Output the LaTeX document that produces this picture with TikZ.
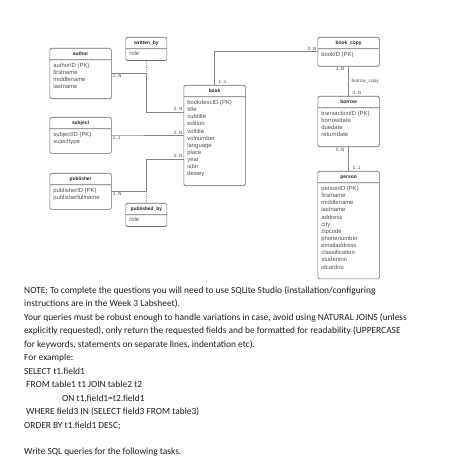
\documentclass[tikz,border=0pt]{standalone}
\usepackage{fontspec}
\setmainfont{Carlito}
\newfontfamily\diagramfont{Liberation Sans}
\usetikzlibrary{shapes.multipart,positioning}

\definecolor{boxgray}{HTML}{6A6A6A}
\definecolor{linegray}{HTML}{858585}
\definecolor{attrgray}{HTML}{505050}
\definecolor{headgray}{HTML}{222222}
\definecolor{notegray}{HTML}{1E1E1E}

% header and spacing helpers for the entity boxes
\newcommand\entityhead[1]{\rule[-3.8pt]{0pt}{10.7pt}{\bfseries\fontsize{4.9}{5}\selectfont\color{headgray}#1}}
\newcommand\firstattr{\rule{0pt}{7.4pt}}
\newcommand\lastattr{\rule[-9.4pt]{0pt}{9.4pt}}
\newcommand\onlyattr{\rule[-4.6pt]{0pt}{11pt}}

\begin{document}
\begin{tikzpicture}%
  [x=1pt, y=-1pt,
   entity/.style={rectangle split, rectangle split parts=2, draw=boxgray,
     line width=0.7pt, rounded corners=1.5pt, minimum width=61.5pt,
     inner xsep=3.5pt, inner ysep=0pt, anchor=north west, align=left,
     rectangle split part align={center,left},
     font=\diagramfont\fontsize{5.9}{7.15}\selectfont, text=attrgray},
   relation/.style={entity, minimum width=41pt},
   card/.style={font=\diagramfont\fontsize{4.7}{5}\selectfont, text=attrgray, inner sep=0.8pt},
   link/.style={draw=linegray, line width=0.6pt},
   weak/.style={link, dash pattern=on 1pt off 1pt},
   note/.style={font=\fontsize{9.4}{13.5}\selectfont, text=notegray, align=left, inner sep=0pt}
  ]
\useasboundingbox (0,0) rectangle (474,462);

% entities
\node[entity] (author) at (49.5,48) {\entityhead{author}
  \nodepart{two}\firstattr authorID (PK)\\firstname\\middlename\\lastname\lastattr};
\node[entity] (subject) at (49.5,117) {\entityhead{subject}
  \nodepart{two}\firstattr subjectID (PK)\\sujecttype\lastattr};
\node[entity] (publisher) at (49.5,173) {\entityhead{publisher}
  \nodepart{two}\firstattr publisherID (PK)\\publisherfullname\lastattr};
\node[entity] (book) at (183.5,85) {\entityhead{book}
  \nodepart{two}\firstattr bookdescID (PK)\\title\\subtitle\\edition\\voltitle\\volnumber\\language\\place\\year\\isbn\\dewey\lastattr};
\node[entity] (bookcopy) at (317.5,37) {\entityhead{book\_copy}
  \nodepart{two}\firstattr bookID (PK)\lastattr};
\node[entity] (borrow) at (317.5,96) {\entityhead{borrow}
  \nodepart{two}\firstattr transactionID (PK)\\borrowdate\\duedate\\returndate\lastattr};
\node[entity] (person) at (317.5,171) {\entityhead{person}
  \nodepart{two}\firstattr personID (PK)\\firstname\\middlename\\lastname\\address\\city\\zipcode\\phonenumber\\emailaddress\\classification\\studentno\\idcardno\lastattr};

% relationship attributes
\node[relation] (writtenby) at (125.5,37) {\entityhead{written\_by}
  \nodepart{two}\onlyattr role};
\node[relation] (publishedby) at (125.5,203) {\entityhead{published\_by}
  \nodepart{two}\onlyattr role};

% connectors
\draw[link] (author.east) -- node[card, pos=0, anchor=north west] {1..N}
  ++(35,0) coordinate (wbjoin) |- node[card, pos=1, anchor=south east] {0..N}
  ([yshift=23.5pt]book.west);
\draw[link] (subject.east) -- node[card, pos=0, anchor=north west] {1..1}
  node[card, pos=1, anchor=south east] {0..N} (book.west);
\draw[link] (publisher.east) -- node[card, pos=0, anchor=north west] {1..N}
  ++(35,0) coordinate (pbjoin) |- node[card, pos=1, anchor=south east] {0..N}
  ([yshift=-23.5pt]book.west);
\draw[link] (book.north) |- node[card, pos=0, anchor=south west, xshift=3pt] {1..1}
  node[card, pos=1, anchor=south east] {0..N} (bookcopy.west);
\draw[link] (bookcopy.south) -- node[card, pos=0, anchor=north east, xshift=-3pt] {1..N}
  node[card, midway, anchor=west, xshift=2pt] {borrow\_copy}
  node[card, pos=1, anchor=south west, xshift=3pt] {0..N} (borrow.north);
\draw[link] (borrow.south) -- node[card, pos=0, anchor=north east, xshift=-3pt] {0..N}
  node[card, pos=1, anchor=south west, xshift=3pt] {1..1} (person.north);
\draw[weak] (writtenby.south) -- (wbjoin);
\draw[weak] (publishedby.north) -- (pbjoin);

% note text
\node[note, anchor=north west] (note) at (24,286) {NOTE: To complete the questions you will need to use SQLite Studio (installation/configuring\\
instructions are in the Week 3 Labsheet).\\
Your queries must be robust enough to handle variations in case, avoid using NATURAL JOINS (unless\\
explicitly requested), only return the requested fields and be formatted for readability (UPPERCASE\\
for keywords, statements on separate lines, indentation etc).\\
For example:\\
SELECT t1.field1\\
\hspace*{2pt}FROM table1 t1 JOIN table2 t2\\
\hspace*{38pt}ON t1.field1=t2.field1\\
\hspace*{2pt}WHERE field3 IN (SELECT field3 FROM table3)\\
ORDER BY t1.field1 DESC;\\[13pt]
Write SQL queries for the following tasks.};
\end{tikzpicture}
\end{document}
